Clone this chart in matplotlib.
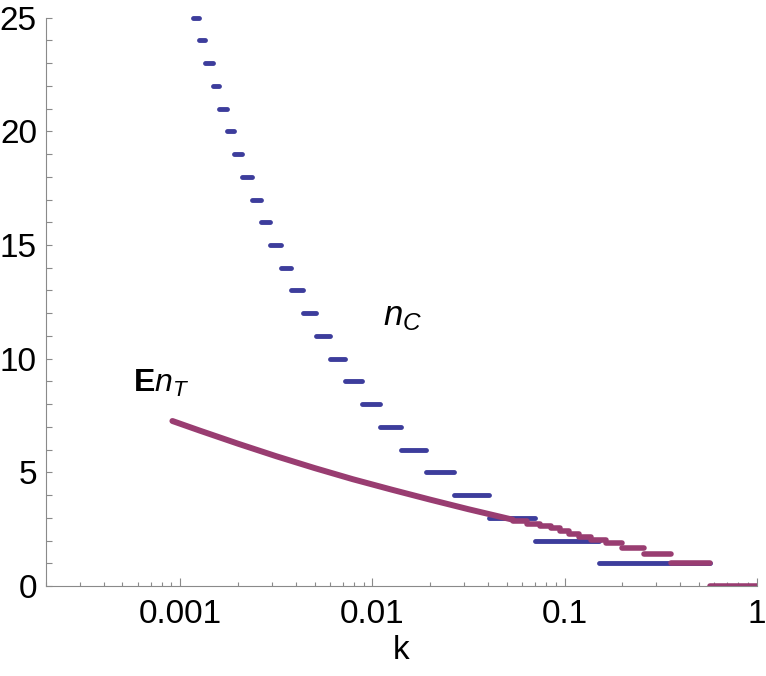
#!/usr/bin/env python3
"""plot.py"""

import matplotlib
matplotlib.use("Agg")
import matplotlib.pyplot as plt
from matplotlib.ticker import FuncFormatter, LogLocator, MultipleLocator, NullFormatter

# n_C: integer levels and the k edges between them (level i spans edges[i]..edges[i+1])
nc_levels = [25, 24, 23, 22, 21, 20, 19, 18, 17, 16, 15, 14, 13,
             12, 11, 10, 9, 8, 7, 6, 5, 4, 3, 2, 1, 0]
nc_edges = [0.001166, 0.001246, 0.001346, 0.001473, 0.001593, 0.001742,
            0.001906, 0.002099, 0.002351, 0.002619, 0.002918, 0.00333,
            0.003754, 0.004335, 0.005067, 0.00599, 0.007172, 0.008796,
            0.010915, 0.014125, 0.018948, 0.026673, 0.040571, 0.070455,
            0.1518, 0.5711, 1.0]

# E n_T: smooth part
ent_k = [0.00091, 0.00126, 0.0020, 0.00316, 0.0050, 0.0079,
         0.0126, 0.020, 0.0316, 0.0537]
ent_val = [7.26, 6.84, 6.26, 5.71, 5.19, 4.70,
           4.24, 3.80, 3.38, 2.92]

# E n_T: step part for larger k
ent_step_edges = [0.0537, 0.0636, 0.0744, 0.0848, 0.0945, 0.1053, 0.1187,
                  0.1371, 0.1641, 0.2000, 0.2588, 0.3578, 0.5711, 1.0]
ent_step_vals = [2.86, 2.75, 2.64, 2.54, 2.43, 2.31, 2.17,
                 2.04, 1.88, 1.69, 1.39, 1.0, 0.0]

BLUE = "#3d3d9c"
PURPLE = "#993d71"
AXIS_GRAY = "#8a8a8a"


def plot(ax: plt.Axes):
    # blue steps, drawn without the vertical jumps
    for i, lev in enumerate(nc_levels):
        ax.plot([nc_edges[i], nc_edges[i + 1]], [lev, lev], color=BLUE, lw=3.5,
                solid_capstyle="round", clip_on=(lev == 0), zorder=2)

    ax.plot(ent_k, ent_val, color=PURPLE, lw=4.3, solid_capstyle="round",
            solid_joinstyle="round", zorder=3)
    for i, v in enumerate(ent_step_vals):
        ax.plot([ent_step_edges[i], ent_step_edges[i + 1]], [v, v], color=PURPLE,
                lw=4.0, solid_capstyle="round", clip_on=(v == 0), zorder=3)

    ax.text(0.01132, 11.48, r"$n_C$", fontsize=25, ha="left", va="baseline")
    ax.text(0.000565, 8.52, r"$\mathbf{E}n_T$", fontsize=23, ha="left", va="baseline")

    ax.set_xscale("log")
    ax.set_xlim(0.0002, 1)
    ax.set_ylim(0, 25)

    ax.xaxis.set_major_locator(LogLocator(base=10, numticks=10))
    ax.xaxis.set_minor_locator(LogLocator(base=10, subs=range(2, 10), numticks=20))
    ax.xaxis.set_major_formatter(FuncFormatter(lambda v, pos: f"{v:g}"))
    ax.xaxis.set_minor_formatter(NullFormatter())
    ax.yaxis.set_major_locator(MultipleLocator(5))
    ax.yaxis.set_minor_locator(MultipleLocator(1))

    for side in ("top", "right"):
        ax.spines[side].set_visible(False)
    for side in ("left", "bottom"):
        ax.spines[side].set_color(AXIS_GRAY)
        ax.spines[side].set_linewidth(0.8)

    ax.tick_params(which="both", direction="in", color=AXIS_GRAY, width=0.8,
                   labelsize=24, labelcolor="black")
    ax.tick_params(axis="x", which="major", length=6, pad=9)
    ax.tick_params(axis="x", which="minor", length=3)
    ax.tick_params(axis="y", which="both", length=4, pad=6.5)

    ax.set_xlabel("k", fontsize=24, labelpad=4)


def main():
    plt.rcParams["font.family"] = ["Liberation Sans", "DejaVu Sans"]
    plt.rcParams["mathtext.fontset"] = "custom"
    plt.rcParams["mathtext.rm"] = "Liberation Sans"
    plt.rcParams["mathtext.it"] = "Liberation Sans:italic"
    plt.rcParams["mathtext.bf"] = "Liberation Sans:bold"

    fig = plt.figure(figsize=(7.66, 6.76), dpi=100)
    ax = fig.add_axes([0.060, 0.133, 0.928, 0.841])
    plot(ax)
    fig.savefig("out.png", dpi=100)


if __name__ == "__main__":
    main()
